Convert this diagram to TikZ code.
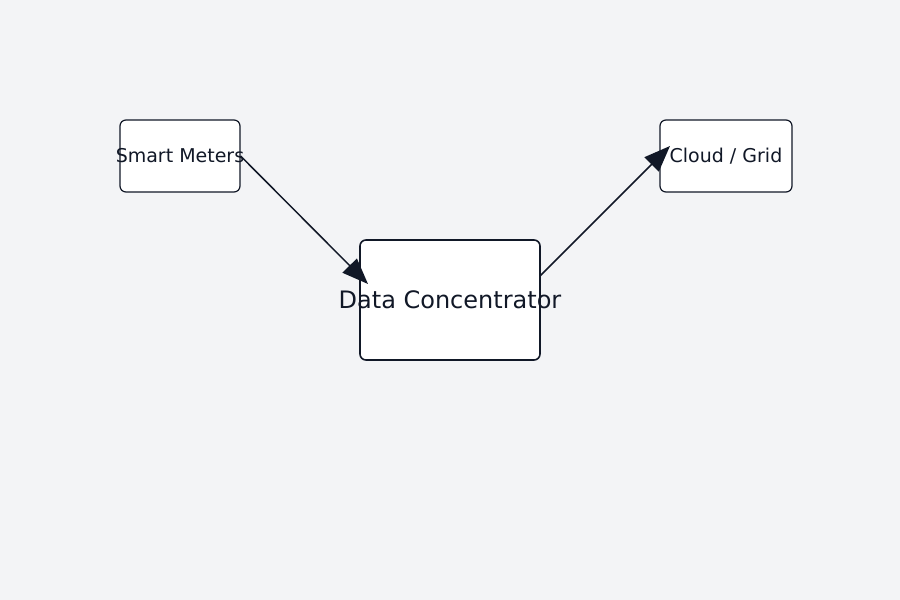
\documentclass[tikz,border=0pt]{standalone}
\usepackage{fontspec}
\setmainfont{DejaVu Sans}
\usetikzlibrary{arrows.meta}
\definecolor{bg}{HTML}{F3F4F6}
\definecolor{ink}{HTML}{111827}
\begin{document}
\begin{tikzpicture}[x=1pt,y=-1pt,
  box/.style={draw=ink,fill=white,rounded corners=6pt,line width=1.2pt,text=ink,inner sep=0pt},
  link/.style={draw=ink,line width=1.5pt,-{Triangle[length=26pt,width=20pt]}}]
\fill[bg] (0,0) rectangle (900,600);
\node[box,minimum width=120pt,minimum height=72pt] (sm) at (180,156) {};
\node[text=ink,font=\fontsize{19}{22}\selectfont] at (180,156) {Smart Meters};
\node[box,minimum width=132pt,minimum height=72pt,font=\fontsize{19}{22}\selectfont] (cg) at (726,156) {Cloud / Grid};
\node[box,line width=1.6pt,minimum width=180pt,minimum height=120pt] (dc) at (450,300) {};
\node[text=ink,font=\fontsize{24}{28}\selectfont] at (450,300) {Data Concentrator};
\coordinate (t1) at (368,284);
\coordinate (s2) at (540,276);
\coordinate (t2) at (670,146);
\draw[link] (sm.east) -- (t1);
\draw[link] (s2) -- (t2);
\end{tikzpicture}
\end{document}
